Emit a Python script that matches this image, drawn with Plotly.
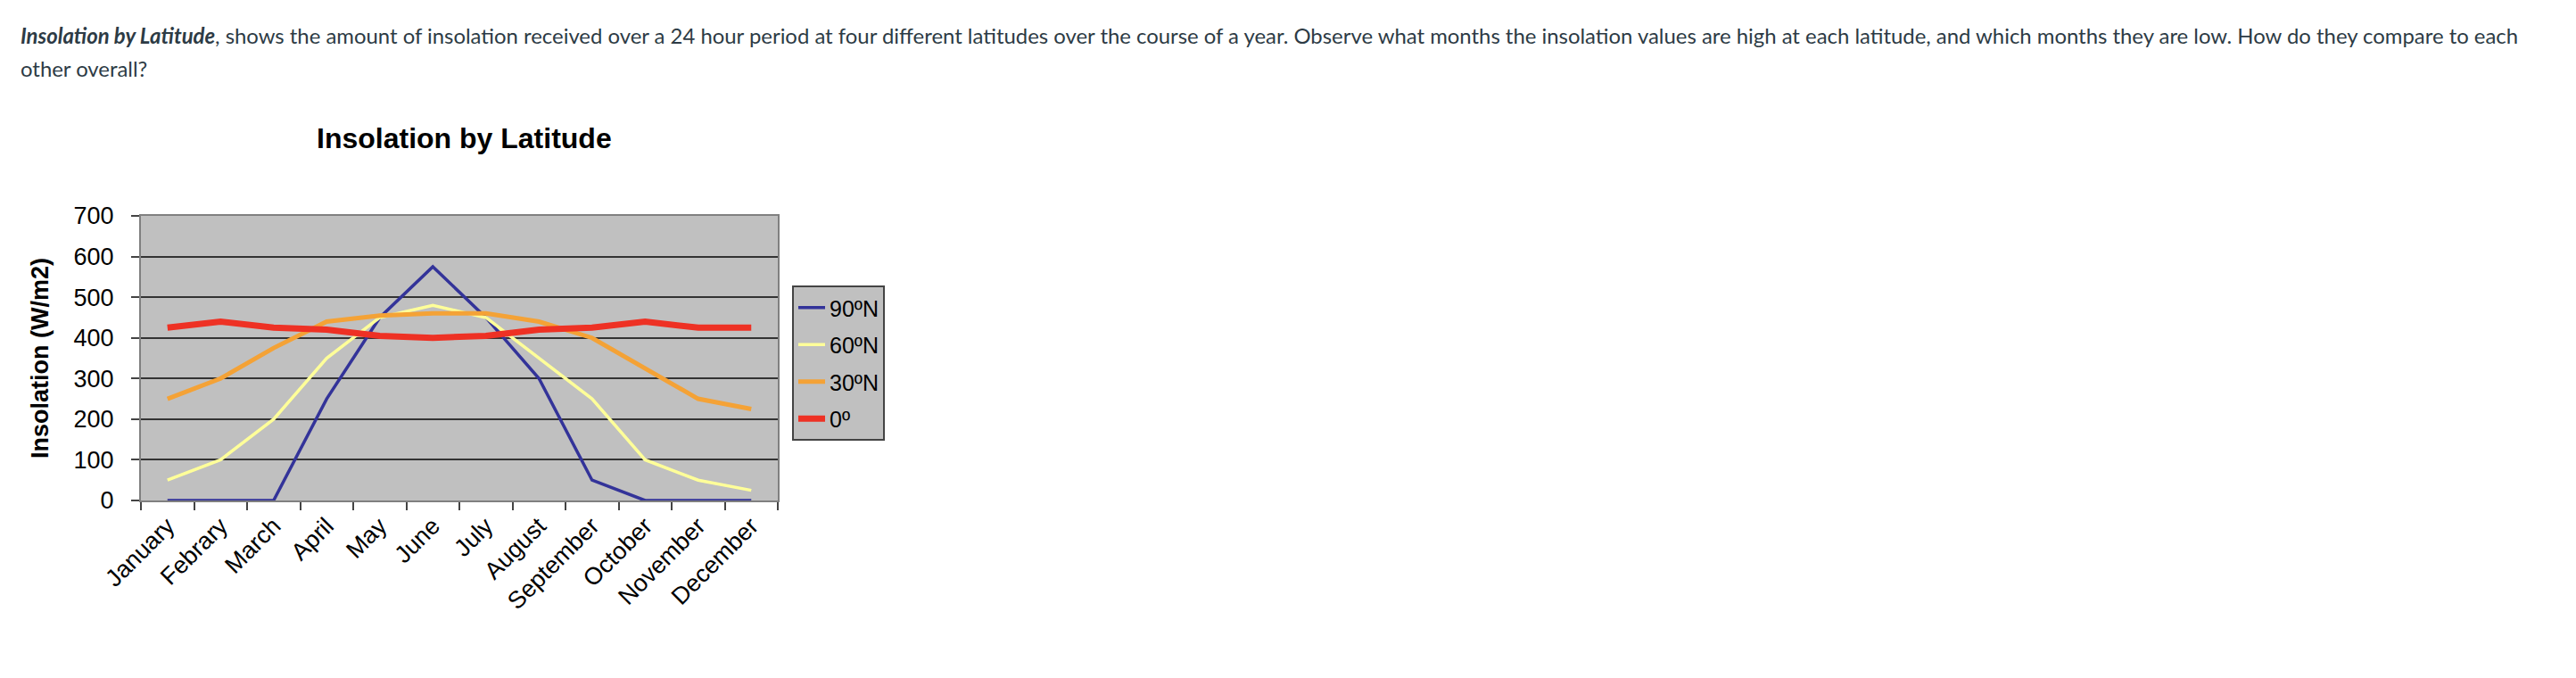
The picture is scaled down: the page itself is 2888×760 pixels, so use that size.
import plotly.graph_objects as go

months = ["January", "Febrary", "March", "April", "May", "June", "July",
          "August", "September", "October", "November", "December"]
lat_90n = [0, 0, 0, 250, 450, 575, 450, 300, 50, 0, 0, 0]
lat_60n = [50, 100, 200, 350, 450, 480, 450, 350, 250, 100, 50, 25]
lat_30n = [250, 300, 375, 440, 455, 460, 460, 440, 400, 325, 250, 225]
lat_0 = [425, 440, 425, 420, 405, 400, 405, 420, 425, 440, 425, 425]
series_names = ["90ºN", "60ºN", "30ºN", "0º"]
y_ticks = [0, 100, 200, 300, 400, 500, 600, 700]

W, H = 2888, 760
L, R, T, B = 150, 864, 234, 553

colors = ["#333399", "#ffff99", "#f4a236", "#ee3124"]
widths = [3.5, 3.5, 5, 7]

fig = go.Figure()
for i, (name, vals) in enumerate(zip(series_names, [lat_90n, lat_60n, lat_30n, lat_0])):
    fig.add_trace(go.Scatter(
        x=months, y=vals, name=name, mode="lines",
        line=dict(color=colors[i], width=widths[i]),
        legendgroup=f"g{i}",
    ))

def py(ypx):
    return (B - ypx) / (B - T)

def px(xpx):
    return (xpx - L) / (R - L)

fig.update_layout(
    width=W, height=H,
    margin=dict(l=L, r=W - R, t=T, b=H - B, pad=0),
    paper_bgcolor="white",
    plot_bgcolor="#c0c0c0",
    showlegend=True,
    legend=dict(
        x=px(880), y=py(312), xanchor="left", yanchor="top",
        bgcolor="#c0c0c0", bordercolor="#444444", borderwidth=2,
        font=dict(family="Liberation Sans, Arial", size=25, color="black"),
        tracegroupgap=6,
    ),
    xaxis=dict(
        type="category", range=[-0.5, 11.5],
        showgrid=False, showline=True, linecolor="#808080", linewidth=2, mirror=True,
        ticks="outside", tickson="boundaries", ticklen=9, tickcolor="#444444", tickwidth=1.5,
        tickangle=-45,
        tickfont=dict(family="Liberation Sans, Arial", size=27, color="black"),
    ),
    yaxis=dict(
        range=[0, 700], tickvals=y_ticks,
        showgrid=True, gridcolor="#333333", gridwidth=1.5,
        zeroline=True, zerolinecolor="#333333", zerolinewidth=2,
        showline=True, linecolor="#808080", linewidth=2, mirror=True,
        ticks="outside", ticklen=9, tickcolor="#444444", tickwidth=1.5,
        ticklabelstandoff=14,
        tickfont=dict(family="Liberation Sans, Arial", size=27, color="black"),
        title=dict(text="<b>Insolation (W/m2)</b>", standoff=20,
                   font=dict(family="Liberation Sans, Arial", size=27, color="black")),
    ),
)

fig.add_annotation(
    text="<b>Insolation by Latitude</b>", xref="paper", yref="paper",
    x=px(512), y=py(147), xanchor="center", yanchor="middle", showarrow=False,
    font=dict(family="Liberation Sans, Arial", size=32, color="black"),
)

para_font = dict(family="Lato", size=23.9, color="#2d3b45")
fig.add_annotation(
    text="<b><i>Insolation by Latitude</i></b>, shows the amount of insolation received over a 24 hour period at four different latitudes over the course of a year. Observe what months the insolation values are high at each latitude, and which months they are low. How do they compare to each",
    xref="paper", yref="paper", x=px(13), y=py(48), xanchor="left", yanchor="bottom",
    showarrow=False, font=para_font, align="left",
)
fig.add_annotation(
    text="other overall?",
    xref="paper", yref="paper", x=px(13), y=py(85), xanchor="left", yanchor="bottom",
    showarrow=False, font=para_font, align="left",
)

fig.write_html("out.html")
